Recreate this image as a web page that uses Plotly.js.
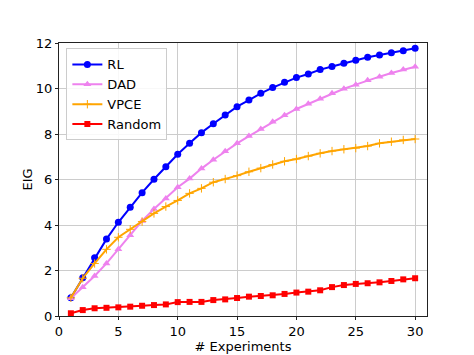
<!DOCTYPE html>
<html>
<head>
<meta charset="utf-8">
<script src="https://cdn.plot.ly/plotly-3.0.1.min.js"></script>
<style>html,body{margin:0;padding:0;background:#fff;}#chart{width:474px;height:355px;}</style>
</head>
<body>
<div id="chart"></div>
<script>
const experiments = [1,2,3,4,5,6,7,8,9,10,11,12,13,14,15,16,17,18,19,20,21,22,23,24,25,26,27,28,29,30];
const rl = [0.80,1.68,2.56,3.38,4.12,4.78,5.42,6.01,6.56,7.11,7.59,8.06,8.45,8.84,9.20,9.49,9.79,10.04,10.27,10.48,10.64,10.83,10.97,11.11,11.24,11.37,11.47,11.57,11.66,11.77];
const dad = [0.78,1.26,1.76,2.31,2.93,3.55,4.18,4.70,5.17,5.66,6.04,6.48,6.87,7.24,7.59,7.91,8.22,8.54,8.82,9.10,9.33,9.55,9.79,9.99,10.17,10.36,10.52,10.68,10.83,10.96];
const vpce = [0.80,1.66,2.31,2.93,3.46,3.81,4.15,4.51,4.81,5.08,5.39,5.61,5.88,6.02,6.17,6.34,6.50,6.66,6.80,6.90,7.03,7.15,7.25,7.33,7.38,7.47,7.59,7.66,7.74,7.78];
const random = [0.12,0.26,0.34,0.36,0.38,0.41,0.45,0.48,0.51,0.61,0.62,0.62,0.70,0.73,0.79,0.85,0.88,0.91,0.97,1.03,1.07,1.13,1.27,1.36,1.41,1.44,1.48,1.54,1.61,1.66];
const xTicks = [0,5,10,15,20,25,30];
const yTicks = [0,2,4,6,8,10,12];

const font = {family: 'DejaVu Sans, sans-serif', size: 13, color: '#000'};

const traces = [
  {x: experiments, y: rl, name: 'RL', mode: 'lines+markers',
   line: {color: '#0000ff', width: 2}, marker: {symbol: 'circle', size: 7, color: '#0000ff'}},
  {x: experiments, y: dad, name: 'DAD', mode: 'lines+markers',
   line: {color: '#ee82ee', width: 2}, marker: {symbol: 'triangle-up', size: 7, color: '#ee82ee'}},
  {x: experiments, y: vpce, name: 'VPCE', mode: 'lines+markers',
   line: {color: '#ffa500', width: 2}, marker: {symbol: 'cross-thin-open', size: 6, color: '#ffa500', line: {color: '#ffa500', width: 1}}},
  {x: experiments, y: random, name: 'Random', mode: 'lines+markers',
   line: {color: '#ff0000', width: 2}, marker: {symbol: 'square', size: 6, color: '#ff0000'}}
];

const layout = {
  width: 474, height: 355,
  margin: {l: 59, r: 47, t: 43, b: 39},
  paper_bgcolor: '#fff', plot_bgcolor: '#fff',
  font: font,
  showlegend: true,
  xaxis: {
    range: [0, 31], tickvals: xTicks, ticktext: xTicks.map(String),
    showgrid: true, gridcolor: '#cccccc', gridwidth: 1, zeroline: false,
    showline: true, mirror: true, linecolor: '#222', linewidth: 1,
    ticks: 'outside', ticklen: 3, tickcolor: '#222', tickfont: font,
    title: {text: '# Experiments', font: font, standoff: 0}
  },
  yaxis: {
    range: [0, 12], tickvals: yTicks, ticktext: yTicks.map(String),
    showgrid: true, gridcolor: '#cccccc', gridwidth: 1, zeroline: false,
    showline: true, mirror: true, linecolor: '#222', linewidth: 1,
    ticks: 'outside', ticklen: 3, tickcolor: '#222', tickfont: font,
    title: {text: 'EIG', font: font, standoff: 0}
  },
  legend: {
    x: 0.02, y: 0.98, xanchor: 'left', yanchor: 'top',
    bgcolor: 'rgba(255,255,255,0.85)', bordercolor: '#cccccc', borderwidth: 1,
    font: font, itemwidth: 30, tracegroupgap: 0
  }
};

Plotly.newPlot('chart', traces, layout, {displayModeBar: false, staticPlot: true});
</script>
</body>
</html>
